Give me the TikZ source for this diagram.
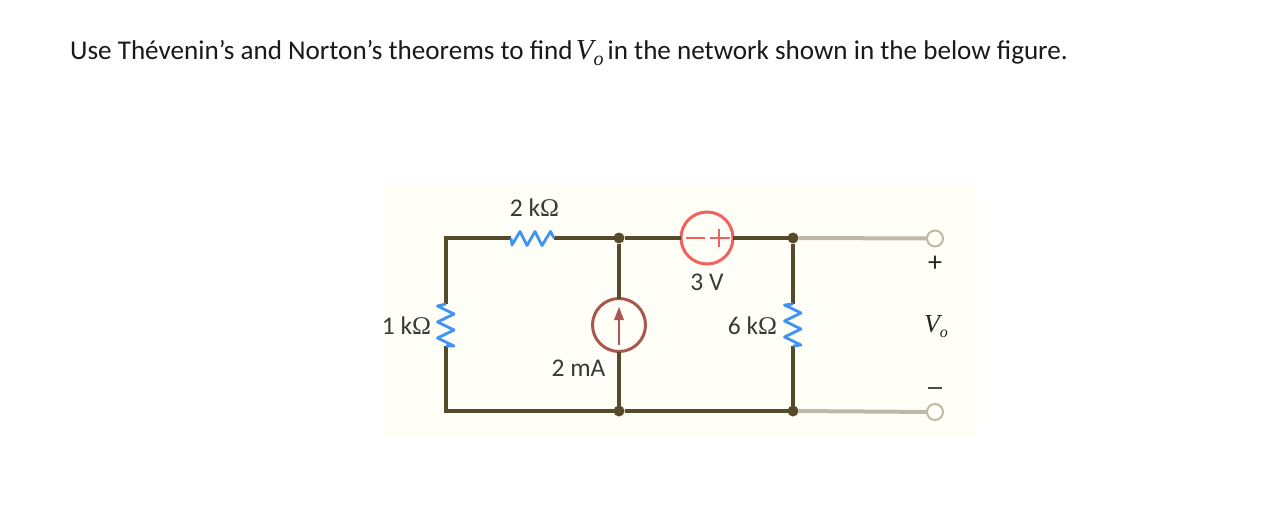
\documentclass[tikz,border=0pt]{standalone}
\usepackage{fontspec}
\setmainfont{Carlito}
\newfontfamily\lblfont{Carlito}
\newfontfamily\serfont{Liberation Serif}
\newcommand{\omg}{{\serfont Ω}}
\definecolor{wirec}{HTML}{574A2A}
\definecolor{stubc}{HTML}{BDB9A6}
\definecolor{resc}{HTML}{3F93F2}
\definecolor{vsrc}{HTML}{F0615F}
\definecolor{isrc}{HTML}{A9564E}
\definecolor{bgc}{HTML}{FFFFF8}
\definecolor{labc}{HTML}{3A3A36}
\tikzset{
  wire/.style={draw=wirec,line width=4pt},
  stub/.style={draw=stubc,line width=4pt},
  resistor/.style={draw=resc,line width=2.8pt,line join=round},
  junction/.style={circle,fill=wirec,inner sep=0pt,outer sep=0pt,minimum size=11pt},
  terminal/.style={circle,draw=stubc,fill=bgc,line width=2pt,inner sep=0pt,outer sep=0pt,minimum size=16pt},
  vsource/.style={circle,draw=vsrc,line width=3pt,fill=bgc,inner sep=0pt,outer sep=0pt,minimum size=52pt},
  isource/.style={circle,draw=isrc,line width=3pt,fill=bgc,inner sep=0pt,outer sep=0pt,minimum size=53pt},
  lab/.style={font=\lblfont\fontsize{25.5}{28}\selectfont,text=labc,inner sep=0pt},
  title/.style={font=\fontsize{27.1}{30}\selectfont,text=black!90,inner sep=0pt,anchor=base west}
}
\begin{document}
\begin{tikzpicture}[x=1pt,y=-1pt]
\useasboundingbox (0,0) rectangle (1285,514);
\fill[white] (0,0) rectangle (1285,514);
\fill[bgc] (383,184) rectangle (977,437);
\node[title] (ttl) at (70,59) {Use Thévenin’s and Norton’s theorems to find\kern-3pt\ {\serfont\itshape\fontsize{29}{29}\selectfont V\raisebox{-6pt}{\fontsize{20}{20}\selectfont o}}\kern-2pt\ in the network shown in the below figure.};
% corners and junctions
\coordinate (tl) at (446,238);
\coordinate (bl) at (446,411);
\coordinate (ra) at (511,238);
\coordinate (rb) at (554,238);
\coordinate (la) at (446,304);
\coordinate (lb) at (446,346);
\coordinate (sa) at (793,304);
\coordinate (sb) at (793,346);
\node[junction] (j1) at (619,238) {};
\node[junction] (j2) at (793,238) {};
\node[junction] (j3) at (619,411) {};
\node[junction] (j4) at (793,411) {};
\node[terminal] (t1) at (935,238.5) {};
\node[terminal] (t2) at (935,412) {};
\node[vsource] (vs) at (707,238) {};
\node[isource] (is) at (619,325) {};
% wires
\draw[stub] (j2) -- (t1);
\draw[stub] (j4) -- (t2);
\draw[wire,line join=miter] (la) -- (tl) -- (ra);
\draw[wire] (rb) -- (j1);
\draw[wire] (j1) -- (vs);
\draw[wire] (vs) -- (j2);
\draw[wire] (j1) -- (is);
\draw[wire] (is) -- (j3);
\draw[wire,line join=miter] (lb) -- (bl) -- (j3);
\draw[wire] (j3) -- (j4);
\draw[wire] (j2) -- (sa);
\draw[wire] (sb) -- (j4);
% resistors
\draw[resistor] (ra) -- ++(1,7) -- ++(8,-13.5) -- ++(7,14) -- ++(8,-14) -- ++(7,14) -- ++(8.5,-14) -- (rb);
\draw[resistor] (la) -- ++(-8.5,2) -- ++(16.5,8) -- ++(-16.5,8) -- ++(16.5,8) -- ++(-16.5,8) -- ++(16.5,8) -- (lb);
\draw[resistor] (sa) -- ++(-8.5,1) -- ++(16.5,8) -- ++(-16.5,8) -- ++(16.5,8) -- ++(-16.5,8) -- ++(16.5,8) -- (sb);
% sources
\draw[draw=vsrc,line width=1.5pt] (vs.center) ++(-21,0) -- ++(19,0);
\draw[draw=vsrc,line width=1.5pt] (vs.center) ++(3,0) -- ++(20,0);
\draw[draw=vsrc,line width=1.5pt] (vs.center) ++(12,-9) -- ++(0,18);
\draw[draw=isrc,line width=2.4pt] (is.center) ++(0,20) -- ++(0,-28);
\fill[isrc] (is.center) ++(0,-18) -- ++(5,13) -- ++(-10,0) -- cycle;
% labels
\node[lab] (l2k) at (534.5,208) {2 k\omg};
\node[lab] (l1k) at (406.5,326) {1 k\omg};
\node[lab] (l2m) at (578.5,368) {2 mA};
\node[lab] (l3v) at (707,282) {3 V};
\node[lab] (l6k) at (752.5,326) {6 k\omg};
\node[lab,text=black!85,font=\lblfont\fontsize{28}{28}\selectfont] (lp) at (935,264) {+};
\node[lab,text=black!85] (lv) at (936,327) {\serfont\itshape\fontsize{26}{26}\selectfont V\raisebox{-5pt}{\fontsize{16}{16}\selectfont o}};
\node[lab,text=black!70] (lm) at (935,388) {\rule{14pt}{1.2pt}};
\end{tikzpicture}
\end{document}
